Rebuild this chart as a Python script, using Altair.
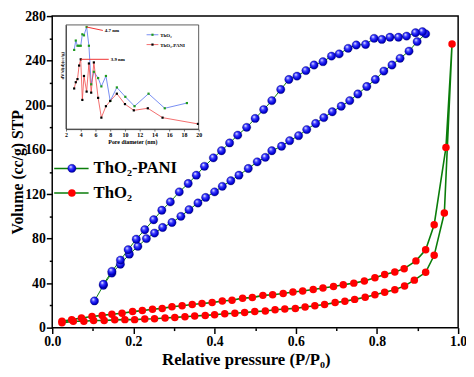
import altair as alt
import pandas as pd

FONT = "Liberation Serif"

# ---------------- main isotherms (P/P0, V cc/g STP) ----------------
pani_ads_p = [0.104, 0.126, 0.147, 0.168, 0.190, 0.211, 0.232, 0.252, 0.272, 0.295, 0.317, 0.337,
              0.359, 0.378, 0.400, 0.419, 0.440, 0.460, 0.483, 0.505, 0.525, 0.541, 0.565, 0.585,
              0.607, 0.627, 0.649, 0.669, 0.690, 0.712, 0.733, 0.753, 0.775, 0.796, 0.817, 0.837,
              0.857, 0.879, 0.899, 0.920]
pani_ads_v = [24, 38, 49, 57, 66, 73, 80, 85, 90, 94.5, 100, 106,
              112, 117, 122, 127, 132, 137, 143, 149, 153, 159, 163, 168,
              172.5, 178, 183.5, 188.7, 194, 199, 204, 210, 216.7, 223, 230.6, 236,
              242, 248.5, 257, 264]
pani_des_p = [0.912, 0.895, 0.873, 0.853, 0.832, 0.812, 0.793, 0.772, 0.749, 0.729, 0.707, 0.688,
              0.667, 0.645, 0.625, 0.603, 0.583, 0.563, 0.541, 0.521, 0.500, 0.479, 0.457, 0.437,
              0.417, 0.397, 0.375, 0.355, 0.335, 0.313, 0.291, 0.270, 0.250, 0.228, 0.207, 0.187,
              0.168, 0.147, 0.126]
pani_des_v = [266, 265, 262, 261, 261, 259, 260, 254.5, 254, 251, 246, 244,
              239, 236, 231, 226, 223, 214, 204, 196, 188, 180, 173, 166,
              159, 152.6, 145, 137, 129.5, 122, 113, 105.5, 97, 88, 79.5, 70,
              60.7, 50.6, 39]

tho2_ads_p = [0.024, 0.052, 0.078, 0.102, 0.128, 0.154, 0.179, 0.203, 0.228, 0.252, 0.278, 0.302,
              0.327, 0.351, 0.377, 0.400, 0.425, 0.450, 0.474, 0.499, 0.525, 0.549, 0.573, 0.599,
              0.623, 0.647, 0.671, 0.697, 0.721, 0.745, 0.771, 0.795, 0.819, 0.844, 0.868, 0.892,
              0.920, 0.941, 0.966, 0.985]
tho2_ads_v = [4.3, 5.8, 5.8, 6.4, 6.4, 7.0, 7.2, 7.2, 7.8, 8.0, 8.7, 9.2,
              9.8, 10.4, 11.0, 11.6, 12.4, 13.0, 13.6, 14.4, 15.0, 16.0, 16.8, 17.3,
              18.5, 19.7, 20.8, 22.5, 23.7, 25.4, 27.4, 29.5, 31.8, 34.0, 37.5, 42.7,
              49.7, 65, 103, 255]
tho2_des_p = [0.970, 0.941, 0.920, 0.896, 0.867, 0.844, 0.819, 0.795, 0.769, 0.743, 0.717, 0.693,
              0.667, 0.643, 0.617, 0.593, 0.569, 0.543, 0.519, 0.493, 0.469, 0.443, 0.419, 0.394,
              0.369, 0.345, 0.320, 0.295, 0.271, 0.247, 0.222, 0.198, 0.172, 0.147, 0.123, 0.098,
              0.072, 0.048, 0.024]
tho2_des_v = [162, 92.5, 70, 60, 53, 50, 47.7, 44.8, 42, 40, 38.5, 37,
              35.7, 34.3, 33, 32, 30.6, 29.6, 29, 27, 26.5, 24.6, 24, 22.5,
              21.7, 20.8, 19.7, 18.8, 17.3, 16.5, 15.3, 14.4, 13, 12, 11, 10,
              8.7, 7.2, 5.8]

# ---------------- inset: pore size distribution (relative dV/d(d)) ----------------
inset_tho2_d = [3.11, 3.33, 3.56, 3.78, 4.0, 4.22, 4.44, 4.8, 5.11, 5.42, 5.78, 6.36, 6.8,
                7.42, 8.0, 8.9, 10.05, 11.3, 13.2, 15.4, 18.4]
inset_tho2_v = [0.76, 0.85, 0.80, 0.80, 0.80, 0.91, 0.90, 0.98, 0.80, 0.43, 0.55, 0.49, 0.41,
                0.51, 0.27, 0.40, 0.31, 0.22, 0.34, 0.20, 0.25]
inset_pani_d = [3.11, 3.33, 3.56, 3.78, 4.0, 4.22, 4.44, 4.8, 5.11, 5.42, 5.78, 6.36, 6.8,
                7.42, 8.0, 8.9, 10.0, 11.2, 13.1, 15.1, 19.9]
inset_pani_v = [0.39, 0.45, 0.48, 0.61, 0.67, 0.28, 0.51, 0.36, 0.63, 0.35, 0.64, 0.30, 0.11,
                0.22, 0.27, 0.34, 0.24, 0.18, 0.20, 0.11, 0.05]
peak_labels = ["4.7 nm", "3.9 nm"]
peak_d = [4.8, 4.0]
peak_v = [0.98, 0.67]
peak_end_d = [7.0, 7.8]
peak_end_v = [0.947, 0.67]

legend_labels = ["ThO\u2082-PANI", "ThO\u2082"]
inset_legend_labels = ["ThO\u2082", "ThO\u2082-PANI"]


def iso_df(pa, va, pd_, vd):
    p = list(pa) + list(pd_)
    v = list(va) + list(vd)
    return pd.DataFrame({"p": p, "v": v, "i": list(range(len(p)))})


pani_df = iso_df(pani_ads_p, pani_ads_v, pani_des_p, pani_des_v)
tho2_df = iso_df(tho2_ads_p, tho2_ads_v, tho2_des_p, tho2_des_v)

LEFT = 45          # plot left edge at page x 53
TOP = 5            # plot top at page y 13
W, H = 413, 317
GREEN = "#0a7d0a"


def px(page_x):
    return page_x - 8 - LEFT


def py(page_y):
    return page_y - 8 - TOP


sphere = alt.RadialGradient(
    gradient="radial",
    stops=[alt.GradientStop(color="#ffffff", offset=0),
           alt.GradientStop(color="#4040ff", offset=0.35),
           alt.GradientStop(color="#0000d8", offset=0.75),
           alt.GradientStop(color="#00007a", offset=1)],
    x1=0.35, y1=0.3, r1=0, x2=0.45, y2=0.45, r2=0.6)

label_style = dict(labelFont=FONT, labelFontSize=14, labelFontWeight="bold", labelColor="black",
                   tickColor="black", tickWidth=1.5, grid=False, domain=False)

x_main = alt.X("p:Q", scale=alt.Scale(domain=[0, 1], nice=False, zero=False),
               axis=alt.Axis(values=[0, 0.2, 0.4, 0.6, 0.8, 1.0], format=".1f", tickSize=6,
                             labelPadding=1, labelFlush=False, labelOverlap=False, orient="bottom",
                             title="Relative pressure (P/P\u2080)", titleFont=FONT, titleFontSize=17,
                             titleFontWeight="bold", titleColor="black", titleX=px(250), titleY=38,
                             titleBaseline="alphabetic", **label_style))
y_main = alt.Y("v:Q", scale=alt.Scale(domain=[0, 280], nice=False, zero=True),
               axis=alt.Axis(values=list(range(0, 281, 40)), tickSize=6, labelPadding=1,
                             labelOverlap=False, labelFlush=False, orient="left",
                             title="Volume (cc/g) STP", titleFont=FONT, titleFontSize=16,
                             titleFontWeight="bold", titleColor="black", titleAngle=-90,
                             titleX=-(LEFT + 8 - 23), titleY=H / 2, titleBaseline="alphabetic",
                             titleAlign="center", **label_style))
x_plain = alt.X("p:Q", axis=None)
y_plain = alt.Y("v:Q", axis=None)

pani_line = alt.Chart(pani_df).mark_line(color=GREEN, strokeWidth=1).encode(x=x_main, y=y_main, order="i:Q")
pani_pts = alt.Chart(pani_df).mark_circle(fill=sphere, size=72, opacity=1, stroke="#000060",
                                          strokeWidth=0.3).encode(x=x_plain, y=y_plain)
tho2_line = alt.Chart(tho2_df).mark_line(color=GREEN, strokeWidth=1.6).encode(x=x_plain, y=y_plain, order="i:Q")
tho2_pts = alt.Chart(tho2_df).mark_circle(color="#ff0000", size=58, opacity=1).encode(x=x_plain, y=y_plain)

minor = alt.Chart(tho2_df).mark_point(opacity=0).encode(
    x=alt.X("p:Q", axis=alt.Axis(values=[0.1, 0.3, 0.5, 0.7, 0.9], labels=False, tickSize=3,
                                 orient="bottom", title=None, tickColor="black", tickWidth=1.5,
                                 grid=False, domain=False)),
    y=alt.Y("v:Q", axis=alt.Axis(values=list(range(20, 281, 40)), labels=False, tickSize=3,
                                 orient="left", title=None, tickColor="black", tickWidth=1.5,
                                 grid=False, domain=False)))

# main legend
leg_y = [py(168), py(193)]
leg_layers = []
for lbl, yy, isp in zip(legend_labels, leg_y, [True, False]):
    d = pd.DataFrame({"label": [lbl]})
    leg_layers.append(alt.Chart(d).mark_rule(color=GREEN, strokeWidth=1.5).encode(
        x=alt.value(px(55)), x2=alt.value(px(90)), y=alt.value(yy)))
    if isp:
        leg_layers.append(alt.Chart(d).mark_circle(fill=sphere, size=72, opacity=1, stroke="#000060",
                                                   strokeWidth=0.3).encode(x=alt.value(px(73)), y=alt.value(yy)))
    else:
        leg_layers.append(alt.Chart(d).mark_circle(color="#ff0000", size=58, opacity=1).encode(
            x=alt.value(px(73)), y=alt.value(yy)))
    leg_layers.append(alt.Chart(d).mark_text(font=FONT, fontSize=17, fontWeight="bold", align="left",
                                             baseline="middle", color="black").encode(
        x=alt.value(px(95)), y=alt.value(yy), text="label:N"))

main_group = alt.layer(pani_line, tho2_line, pani_pts, tho2_pts, minor, *leg_layers).resolve_axis(
    x="independent", y="independent")

# ---------------- inset ----------------
IN_L, IN_R = px(67), px(202)
IN_TOP, IN_BOT = py(22), py(128)

tho2_in = pd.DataFrame({"d": inset_tho2_d, "v": inset_tho2_v})
pani_in = pd.DataFrame({"d": inset_pani_d, "v": inset_pani_v})
ann = pd.DataFrame({"d": peak_d, "v": peak_v, "d2": peak_end_d, "v2": peak_end_v, "label": peak_labels})

x_in = alt.X("d:Q", scale=alt.Scale(domain=[2, 20], range=[IN_L, IN_R], nice=False, zero=False),
             axis=alt.Axis(values=list(range(2, 21, 2)), offset=-(H - IN_BOT), orient="bottom",
                           labelFont=FONT, labelFontSize=6, labelFontWeight="bold", labelColor="black",
                           labelPadding=1, labelFlush=False, labelOverlap=False, tickSize=2,
                           tickColor="#333", tickWidth=0.7, domainColor="#333", domainWidth=0.8,
                           grid=False, title="Pore diameter (nm)", titleFont=FONT, titleFontSize=6,
                           titleFontWeight="bold", titleColor="black", titlePadding=1))
y_in = alt.Y("v:Q", scale=alt.Scale(domain=[0, 1], range=[IN_BOT, IN_TOP], nice=False, zero=False),
             axis=alt.Axis(offset=-IN_L, orient="left", labels=False, ticks=False, grid=False,
                           domainColor="#333", domainWidth=0.8, title="dV/d(d)(cc/g)", titleFont=FONT,
                           titleFontSize=5, titleFontWeight="bold", titleColor="black",
                           titleAngle=-90, titleX=-2, titleY=py(63), titleBaseline="bottom",
                           titleAlign="center"))

frame = alt.Chart(pd.DataFrame({"a": [0]})).mark_rect(fillOpacity=0, stroke="#333", strokeWidth=0.8).encode(
    x=alt.datum(2), x2=alt.datum(20), y=alt.datum(0), y2=alt.datum(1))
in_tho2_line = alt.Chart(tho2_in).mark_line(color="#5470f0", strokeWidth=0.8).encode(x=x_in, y=y_in)
in_pani_line = alt.Chart(pani_in).mark_line(color="#f04848", strokeWidth=0.8).encode(x="d:Q", y="v:Q")
in_tho2_pts = alt.Chart(tho2_in).mark_square(color="#1f9a1f", size=5, opacity=1).encode(x="d:Q", y="v:Q")
in_pani_pts = alt.Chart(pani_in).mark_square(color="black", size=5, opacity=1).encode(x="d:Q", y="v:Q")
ann_rule = alt.Chart(ann).mark_rule(color="#f03030", strokeWidth=1).encode(x="d:Q", y="v:Q", x2="d2:Q", y2="v2:Q")
ann_text = alt.Chart(ann).mark_text(font=FONT, fontSize=5, fontWeight="bold", align="left", dx=2,
                                    baseline="middle", color="black").encode(x="d2:Q", y="v2:Q", text="label:N")

in_leg = []
for lbl, yy, lc, pc in zip(inset_legend_labels, [py(32), py(42)],
                           ["#5470f0", "#f04848"], ["#1f9a1f", "black"]):
    d = pd.DataFrame({"label": [lbl]})
    in_leg.append(alt.Chart(d).mark_rule(color=lc, strokeWidth=0.8).encode(
        x=alt.value(px(149)), x2=alt.value(px(161)), y=alt.value(yy)))
    in_leg.append(alt.Chart(d).mark_square(color=pc, size=5, opacity=1).encode(
        x=alt.value(px(155)), y=alt.value(yy)))
    in_leg.append(alt.Chart(d).mark_text(font=FONT, fontSize=5, fontWeight="bold", align="left",
                                         baseline="middle", color="black").encode(
        x=alt.value(px(163)), y=alt.value(yy), text="label:N"))

inset_group = alt.layer(in_tho2_line, in_pani_line, in_tho2_pts, in_pani_pts, ann_rule, ann_text, frame, *in_leg)

chart = alt.layer(main_group, inset_group).resolve_scale(x="independent", y="independent").properties(
    width=W, height=H,
    autosize=alt.AutoSizeParams(type="none"),
    padding={"left": LEFT, "top": TOP, "right": 8, "bottom": 47},
    background="white",
).configure_view(stroke="black", strokeWidth=1.5)

chart.save("out.html", embed_options={"renderer": "svg", "actions": False})
